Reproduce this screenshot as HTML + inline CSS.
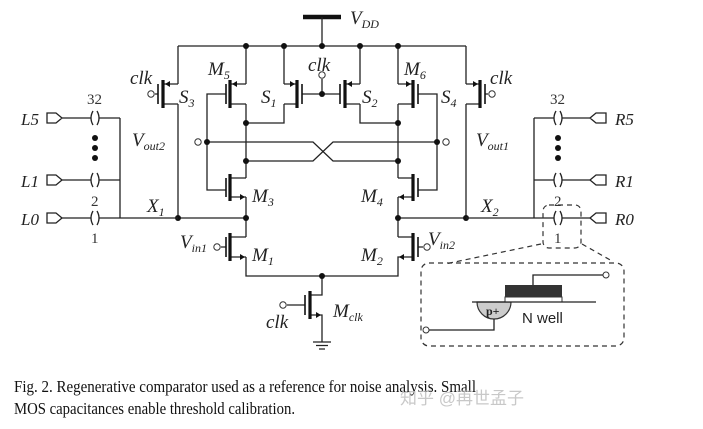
<!DOCTYPE html>
<html><head><meta charset="utf-8"><style>
html,body{margin:0;padding:0;background:#fff;}
svg{display:block;}
.w{stroke:#222;stroke-width:1.3;fill:none;}
.ch{stroke:#111;stroke-width:3.2;}
.g{stroke:#111;stroke-width:1.6;}
.i{font-family:"Liberation Serif",serif;font-style:italic;font-size:19px;fill:#222;}
.s{font-family:"Liberation Serif",serif;font-style:italic;font-size:12px;fill:#222;}
.n{font-family:"Liberation Serif",serif;font-size:15px;fill:#333;}
.b{fill:#fff;stroke:#333;stroke-width:1;}
</style></head><body>
<svg width="703" height="429" viewBox="0 0 703 429" xmlns="http://www.w3.org/2000/svg">
<!-- VDD -->
<line x1="303" y1="17" x2="341" y2="17" stroke="#111" stroke-width="4.5"/>
<line class="w" x1="322" y1="17" x2="322" y2="46"/>
<text class="i" x="350" y="24">V<tspan class="s" dy="4">DD</tspan></text>
<path class="w" d="M178 46 H466 M178 46 V84 M466 46 V84 M246 46 V84 M284 46 V84 M360 46 V84 M398 46 V84"/>
<g fill="#111"><circle cx="246" cy="46" r="3"/><circle cx="284" cy="46" r="3"/><circle cx="322" cy="46" r="3"/><circle cx="360" cy="46" r="3"/><circle cx="398" cy="46" r="3"/></g>

<path class="w" d="
M163 84 H178 M163 104 H178 M178 104 V218
M230 84 H246 M230 104 H246 M246 104 V178
M297 84 H284 M297 104 H284 M284 104 V123 H246
M345 84 H360 M345 104 H360 M360 104 V123 H398
M413 84 H398 M413 104 H398 M398 104 V178
M480 84 H466 M480 104 H466 M466 104 V218
M230 178 H246 M230 197 H246 M246 197 V237
M413 178 H398 M413 197 H398 M398 197 V237
M230 237 H246 M230 257 H246 M246 257 V276 H398 V257 H413 M398 237 H413
M322 276 V295 H310 M310 315 H322 V342
M226 94 H207 V190 H226 M418 94 H437 V190 H418
M302 94 H340 M322 94 V79
M207 142 H313 L333 161 H398 M246 161 H313 L333 142 H437
M158 94 H155 M485 94 H488 M226 247 H221 M418 247 H423 M305 305 H287
M178 218 H246 M398 218 H466
"/>
<g class="ch">
<line x1="163" y1="80" x2="163" y2="108"/><line x1="230" y1="80" x2="230" y2="108"/>
<line x1="297" y1="80" x2="297" y2="108"/><line x1="345" y1="80" x2="345" y2="108"/>
<line x1="413" y1="80" x2="413" y2="108"/><line x1="480" y1="80" x2="480" y2="108"/>
<line x1="230" y1="174" x2="230" y2="201"/><line x1="413" y1="174" x2="413" y2="201"/>
<line x1="230" y1="233" x2="230" y2="261"/><line x1="413" y1="233" x2="413" y2="261"/>
<line x1="310" y1="291" x2="310" y2="319"/>
</g>
<g class="g">
<line x1="158" y1="84" x2="158" y2="104"/><line x1="226" y1="84" x2="226" y2="104"/>
<line x1="302" y1="84" x2="302" y2="104"/><line x1="340" y1="84" x2="340" y2="104"/>
<line x1="418" y1="84" x2="418" y2="104"/><line x1="485" y1="84" x2="485" y2="104"/>
<line x1="226" y1="178" x2="226" y2="197"/><line x1="418" y1="178" x2="418" y2="197"/>
<line x1="226" y1="237" x2="226" y2="257"/><line x1="418" y1="237" x2="418" y2="257"/>
<line x1="305" y1="295" x2="305" y2="315"/>
</g>
<g fill="#111">
<path d="M165 84 l5 -3 v6z"/><path d="M232 84 l5 -3 v6z"/><path d="M295 84 l-5 -3 v6z"/>
<path d="M347 84 l5 -3 v6z"/><path d="M411 84 l-5 -3 v6z"/><path d="M478 84 l-5 -3 v6z"/>
<path d="M245 197 l-5 -3 v6z"/><path d="M399 197 l5 -3 v6z"/>
<path d="M245 257 l-5 -3 v6z"/><path d="M399 257 l5 -3 v6z"/><path d="M321 315 l-5 -3 v6z"/>
</g>
<g fill="#111">
<circle cx="246" cy="123" r="3"/><circle cx="398" cy="123" r="3"/>
<circle cx="246" cy="161" r="3"/><circle cx="398" cy="161" r="3"/>
<circle cx="207" cy="142" r="3"/><circle cx="437" cy="142" r="3"/>
<circle cx="322" cy="94" r="3"/>
<circle cx="178" cy="218" r="3"/><circle cx="246" cy="218" r="3"/>
<circle cx="398" cy="218" r="3"/><circle cx="466" cy="218" r="3"/>
<circle cx="322" cy="276" r="3"/>
</g>
<g class="b">
<circle cx="151" cy="94" r="3.2"/><circle cx="492" cy="94" r="3.2"/><circle cx="322" cy="75" r="3.2"/>
<circle cx="198" cy="142" r="3.2"/><circle cx="446" cy="142" r="3.2"/>
<circle cx="217" cy="247" r="3.2"/><circle cx="427" cy="247" r="3.2"/><circle cx="283" cy="305" r="3.2"/>
<circle cx="426" cy="330" r="3"/><circle cx="606" cy="275" r="3"/>
</g>
<path class="w" d="M313 342 H331 M316 345.5 H328 M319 349 H325"/>

<text class="i" x="130" y="84">clk</text>
<text class="i" x="179" y="103">S<tspan class="s" dy="4">3</tspan></text>
<text class="i" x="208" y="75">M<tspan class="s" dy="4">5</tspan></text>
<text class="i" x="261" y="103">S<tspan class="s" dy="4">1</tspan></text>
<text class="i" x="308" y="71">clk</text>
<text class="i" x="362" y="103">S<tspan class="s" dy="4">2</tspan></text>
<text class="i" x="404" y="75">M<tspan class="s" dy="4">6</tspan></text>
<text class="i" x="441" y="103">S<tspan class="s" dy="4">4</tspan></text>
<text class="i" x="490" y="84">clk</text>
<text class="i" x="132" y="146">V<tspan class="s" dy="4">out2</tspan></text>
<text class="i" x="476" y="146">V<tspan class="s" dy="4">out1</tspan></text>
<text class="i" x="252" y="202">M<tspan class="s" dy="4">3</tspan></text>
<text class="i" x="361" y="202">M<tspan class="s" dy="4">4</tspan></text>
<text class="i" x="147" y="212">X<tspan class="s" dy="4">1</tspan></text>
<text class="i" x="481" y="212">X<tspan class="s" dy="4">2</tspan></text>
<text class="i" x="180" y="248">V<tspan class="s" dy="4">in1</tspan></text>
<text class="i" x="428" y="245">V<tspan class="s" dy="4">in2</tspan></text>
<text class="i" x="252" y="261">M<tspan class="s" dy="4">1</tspan></text>
<text class="i" x="361" y="261">M<tspan class="s" dy="4">2</tspan></text>
<text class="i" x="333" y="317">M<tspan class="s" dy="4">clk</tspan></text>
<text class="i" x="266" y="328">clk</text>

<path class="w" d="M62 118 H91 M99 118 H120 M62 180 H91 M99 180 H120 M62 218 H91 M99 218 H178 M120 118 V218"/>
<path class="w" d="M47 113 H56 L62 118 L56 123 H47Z M47 175 H56 L62 180 L56 185 H47Z M47 213 H56 L62 218 L56 223 H47Z"/>
<path class="w" d="M93 111 Q89 118 93 125 M97 111 Q101 118 97 125 M93 173 Q89 180 93 187 M97 173 Q101 180 97 187 M93 211 Q89 218 93 225 M97 211 Q101 218 97 225"/>
<g fill="#111"><circle cx="95" cy="138" r="3"/><circle cx="95" cy="148" r="3"/><circle cx="95" cy="158" r="3"/></g>
<text class="n" x="87" y="104">32</text><text class="n" x="91" y="206">2</text><text class="n" x="91" y="243">1</text>
<text class="i" x="21" y="125" style="font-size:17px">L5</text>
<text class="i" x="21" y="187" style="font-size:17px">L1</text>
<text class="i" x="21" y="225" style="font-size:17px">L0</text>

<path class="w" d="M466 218 H554 M562 218 H590 M534 118 H554 M562 118 H590 M534 180 H554 M562 180 H590 M534 118 V218"/>
<path class="w" d="M606 113 H596 L590 118 L596 123 H606Z M606 175 H596 L590 180 L596 185 H606Z M606 213 H596 L590 218 L596 223 H606Z"/>
<path class="w" d="M556 111 Q552 118 556 125 M560 111 Q564 118 560 125 M556 173 Q552 180 556 187 M560 173 Q564 180 560 187 M556 211 Q552 218 556 225 M560 211 Q564 218 560 225"/>
<g fill="#111"><circle cx="558" cy="138" r="3"/><circle cx="558" cy="148" r="3"/><circle cx="558" cy="158" r="3"/></g>
<text class="n" x="550" y="104">32</text><text class="n" x="554" y="206">2</text><text class="n" x="554" y="243">1</text>
<text class="i" x="615" y="125" style="font-size:17px">R5</text>
<text class="i" x="615" y="187" style="font-size:17px">R1</text>
<text class="i" x="615" y="225" style="font-size:17px">R0</text>

<g fill="none" stroke="#333" stroke-width="1.2" stroke-dasharray="5,4">
<rect x="543" y="205" width="38" height="43" rx="6"/>
<path d="M541 244 L445 264 M582 244 L612 261"/>
<rect x="421" y="263" width="203" height="83" rx="8"/>
</g>
<path d="M477 302 A17 17 0 0 0 511 302 Z" fill="#ccc" stroke="#333" stroke-width="1.2"/>
<rect x="505" y="297" width="57" height="5" fill="#fff" stroke="#333" stroke-width="1"/>
<rect x="505" y="285" width="57" height="12" fill="#333"/>
<path class="w" d="M472 302 H596 M533 285 V275 H603 M494 319 V330 H429"/>
<text x="486" y="315" style="font-family:'Liberation Serif',serif;font-weight:bold;font-size:12px;fill:#222">p+</text>
<text x="522" y="323" style="font-family:'Liberation Sans',sans-serif;font-size:15px;fill:#222">N well</text>

<text x="14" y="392" textLength="462" lengthAdjust="spacingAndGlyphs" style="font-family:'Liberation Serif',serif;font-size:17px;fill:#111">Fig. 2.   Regenerative comparator used as a reference for noise analysis. Small</text>
<text x="14" y="414" textLength="281" lengthAdjust="spacingAndGlyphs" style="font-family:'Liberation Serif',serif;font-size:17px;fill:#111">MOS capacitances enable threshold calibration.</text>
<text x="400" y="404" style="font-family:'Liberation Sans','Noto Sans CJK SC',sans-serif;font-size:17px;fill:#bbb;opacity:0.8">知乎 @再世孟子</text>
</svg>
</body></html>
